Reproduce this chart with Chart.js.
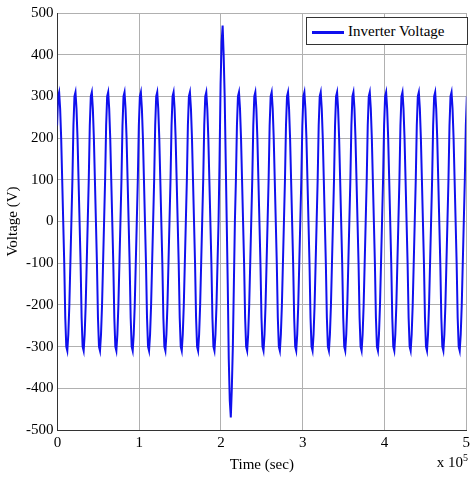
<!DOCTYPE html>
<html><head><meta charset="utf-8">
<script src="https://cdn.jsdelivr.net/npm/chart.js@4"></script>
<style>
body{margin:0;background:#fff;}
#wrap{position:relative;width:474px;height:478px;}
#exp{position:absolute;right:6px;top:452px;font:15px "Liberation Serif",serif;}
#lg{position:absolute;left:306px;top:17px;width:160px;height:26px;border:1px solid #333;background:#fff;font:15px "Liberation Serif",serif;line-height:26px;}
#lg span{display:inline-block;width:32px;height:2.5px;background:#1010ee;vertical-align:middle;margin:0 4px 0 5px;}
</style></head><body>
<div id="wrap"><canvas id="mycanvas" width="474" height="478"></canvas>
<div id="lg"><span></span>Inverter Voltage</div>
<div id="exp">x 10<sup style="font-size:10px">5</sup></div></div>
<script>
// one period of the stepped output (16 samples per period)
var period = 0.2;
var phase = -0.03;
var cycleLevels = [0, 100, 230, 300, 310, 270, 200, 100, 0, -100, -230, -300, -310, -270, -200, -100];
// the disturbed period around t = 2e5
var spikeCycle = 10;
var spikeLevels = [0, 150, 330, 430, 470, 400, 300, 150, 0, -150, -330, -430, -470, -400, -300, -150];
var nCycles = 27;
var xTicks = [0, 1, 2, 3, 4, 5];

var points = [];
for (var k = 0; k < nCycles; k++) {
	var lv = (k == spikeCycle) ? spikeLevels : cycleLevels;
	for (var i = 0; i < lv.length; i++) {
		points.push({x: phase + k * period + i * period / lv.length, y: lv[i]});
	}
}

var ctx = document.getElementById("mycanvas");
var grid = {color: "#b0b0b0", lineWidth: 1, drawTicks: false};
new Chart(ctx, {
	type: 'line',
	data: {datasets: [{
		label: "Inverter Voltage",
		data: points,
		borderColor: "#1010ee",
		borderWidth: 2,
		pointRadius: 0,
		fill: false,
		tension: 0
	}]},
	options: {
		animation: false,
		responsive: false,
		layout: {padding: {top: 8, right: 4}},
		plugins: {legend: {display: false}, tooltip: {enabled: false}},
		scales: {
			x: {
				type: 'linear', min: 0, max: 5,
				grid: grid,
				border: {color: "#333"},
				ticks: {stepSize: 1, padding: 4, color: "#000", font: {family: "Liberation Serif", size: 15},
					callback: function(v){ return xTicks.indexOf(v) >= 0 ? v : ''; }},
				title: {display: true, text: "Time (sec)", color: "#000", font: {family: "Liberation Serif", size: 15}, padding: {top: 0}}
			},
			y: {
				min: -500, max: 500,
				grid: grid,
				border: {color: "#333"},
				ticks: {stepSize: 100, padding: 4, color: "#000", font: {family: "Liberation Serif", size: 15}},
				title: {display: true, text: "Voltage (V)", color: "#000", font: {family: "Liberation Serif", size: 15}, padding: {bottom: 0}}
			}
		}
	}
});
</script></body></html>
